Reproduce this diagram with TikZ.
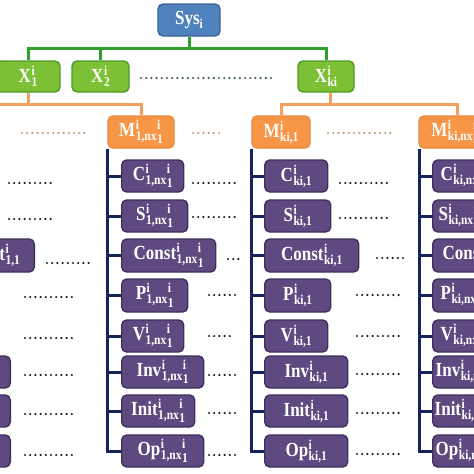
\documentclass[tikz,border=0pt]{standalone}
\usepackage{fontspec}
\setmainfont{Liberation Serif}[FakeStretch=0.85]
\definecolor{sysfill}{HTML}{4F81BD}
\definecolor{sysdraw}{HTML}{3A6396}
\definecolor{greenfill}{HTML}{7CC036}
\definecolor{greendraw}{HTML}{4E9A25}
\definecolor{greenline}{HTML}{2EA02E}
\definecolor{greendots}{HTML}{41604A}
\definecolor{orangefill}{HTML}{F79646}
\definecolor{orangedraw}{HTML}{E88A3C}
\definecolor{orangeline}{HTML}{F4A05C}
\definecolor{orangedots}{HTML}{C09A7A}
\definecolor{purplefill}{HTML}{5E4A80}
\definecolor{purpledraw}{HTML}{3E2F5C}
\definecolor{trunk}{HTML}{14235A}
\definecolor{darkdots}{HTML}{1E1E2E}
\newcommand\sfn{\fontsize{13.5}{13.5}\selectfont}
% base ^sup _sub
\newcommand\lbl[3]{#1\kern0.5pt\rlap{\raisebox{7pt}{\sfn #2}}\raisebox{-4pt}{\sfn #3}}
% base ^sup _{sub ^sup2 _sub2}
\newcommand\lbln[5]{#1\kern0.5pt\rlap{\raisebox{7pt}{\sfn #2}}\raisebox{-4pt}{\sfn #3}\kern0.5pt\rlap{\raisebox{7pt}{\sfn #4}}\raisebox{-7.5pt}{\sfn #5}}
\newcommand\nxa[1]{\lbln{#1}{i}{1,nx}{i}{1}}
\newcommand\kio[1]{\lbl{#1}{i}{ki,1}}
\newcommand\kinx[1]{\lbln{#1}{i}{ki,nx}{i}{ki}}
\newcommand\oneone[1]{\lbl{#1}{i}{1,1}}
\begin{document}
\begin{tikzpicture}[x=1pt,y=-1pt,
 box/.style={rounded corners=5pt, line width=1.4pt, text=white,
   font=\fontsize{20}{22}\selectfont\bfseries, inner sep=0pt, minimum height=32pt},
 sysbox/.style={box, fill=sysfill, draw=sysdraw},
 xbox/.style={box, fill=greenfill, draw=greendraw, minimum height=31pt},
 mbox/.style={box, fill=orangefill, draw=orangedraw},
 pbox/.style={box, fill=purplefill, draw=purpledraw, anchor=west},
 pboxe/.style={box, fill=purplefill, draw=purpledraw, anchor=east},
 gline/.style={draw=greenline, line width=3pt},
 oline/.style={draw=orangeline, line width=3pt},
 tline/.style={draw=trunk, line width=3pt},
 dots/.style={line width=2.4pt, line cap=round, dash pattern=on 0pt off 5.2pt},
]
\useasboundingbox (0,0) rectangle (474,474);
\clip (0,0) rectangle (474,474);
\fill[white] (0,0) rectangle (474,474);

% top levels
\node[sysbox, minimum width=62pt] (sys) at (189,20) {Sys\raisebox{-4pt}{\sfn i}};
\node[xbox, minimum width=64pt] (x1) at (28,76.5) {\lbl{X}{i}{1}};
\node[xbox, minimum width=57pt] (x2) at (100.5,76.5) {\lbl{X}{i}{2}};
\node[xbox, minimum width=56pt] (xk) at (326,76.5) {\lbl{X}{i}{ki}};
\coordinate (gb) at (0,48);
\draw[gline] (sys.south) -- (sys.south |- gb);
\draw[gline] (x1.north) -- (x1.north |- gb) -| (xk.north);
\draw[gline] (x2.north) -- (x2.north |- gb);
\draw[dots, greendots] (141,78) -- (276,78);

% M level
\node[mbox, minimum width=66pt] (m1) at (141,132) {\nxa{M}};
\node[mbox, minimum width=58pt] (mk1) at (281,132) {\kio{M}};
\node[mbox, minimum width=76pt] (mkn) at (457,132) {\kinx{M}};
\coordinate (m0) at (-40,116);
\coordinate (ob) at (0,104);
\draw[oline] (x1.south) -- (x1.south |- ob);
\draw[oline] (m0) -- (m0 |- ob) -| (m1.north);
\draw[oline] ([xshift=4pt]xk.south) -- ([xshift=4pt]xk.south |- ob);
\draw[oline] (mk1.north) -- (mk1.north |- ob) -| (mkn.north);
\draw[dots, orangedots] (22,133) -- (88,133);
\draw[dots, orangedots] (193,133) -- (224,133);
\draw[dots, orangedots] (328,133) -- (395,133);

% column 0 (cut off at left)
\node[pboxe, minimum width=86pt, minimum height=33pt] (k0) at (35,255.5) {\oneone{Const}};
\node[pboxe, minimum width=83pt] (n0) at (11,372) {\oneone{Inv}};
\node[pboxe, minimum width=83pt] (t0) at (11,411) {\oneone{Init}};
\node[pboxe, minimum width=83pt] (o0) at (11,451) {\oneone{Op}};

% column 1
\node[pbox, minimum width=62pt] (c1) at (121,176) {\nxa{C}};
\node[pbox, minimum width=66pt] (s1) at (121,216) {\nxa{S}};
\node[pbox, minimum width=94pt, minimum height=33pt] (k1) at (121,255.5) {\nxa{Const}};
\node[pbox, minimum width=66pt, minimum height=33pt] (p1) at (121,295.5) {\nxa{P}};
\node[pbox, minimum width=62pt] (v1) at (121,336) {\nxa{V}};
\node[pbox, minimum width=82pt] (n1) at (121,372) {\nxa{Inv}};
\node[pbox, minimum width=73pt] (t1) at (121,411) {\nxa{Init}};
\node[pbox, minimum width=82pt] (o1) at (121,451) {\nxa{Op}};
\draw[tline] (m1.south west) |- (o1.west);
\foreach \b in {c1,s1,k1,p1,v1,n1,t1}{\draw[tline] (m1.south west |- \b.west) -- (\b.west);}

% column 2
\node[pbox, minimum width=63pt] (c2) at (264,176) {\kio{C}};
\node[pbox, minimum width=66pt] (s2) at (264,216) {\kio{S}};
\node[pbox, minimum width=94pt, minimum height=33pt] (k2) at (264,255.5) {\kio{Const}};
\node[pbox, minimum width=66pt, minimum height=33pt] (p2) at (264,295.5) {\kio{P}};
\node[pbox, minimum width=63pt] (v2) at (264,336) {\kio{V}};
\node[pbox, minimum width=83pt] (n2) at (264,372) {\kio{Inv}};
\node[pbox, minimum width=83pt] (t2) at (264,411) {\kio{Init}};
\node[pbox, minimum width=83pt] (o2) at (264,451) {\kio{Op}};
\draw[tline] (mk1.south west) |- (o2.west);
\foreach \b in {c2,s2,k2,p2,v2,n2,t2}{\draw[tline] (mk1.south west |- \b.west) -- (\b.west);}

% column 3 (cut off at right)
\node[pbox, inner xsep=8pt] (c3) at (432,176) {\kinx{C}};
\node[pbox, inner xsep=6pt] (s3) at (432,216) {\kinx{S}};
\node[pbox, inner xsep=10pt, minimum height=33pt] (k3) at (432,255.5) {\kinx{Const}};
\node[pbox, inner xsep=8pt, minimum height=33pt] (p3) at (432,295.5) {\kinx{P}};
\node[pbox, inner xsep=8pt] (v3) at (432,336) {\kinx{V}};
\node[pbox, inner xsep=3pt] (n3) at (432,372) {\kinx{Inv}};
\node[pbox, inner xsep=2pt] (t3) at (432,411) {\kinx{Init}};
\node[pbox, inner xsep=3pt] (o3) at (432,451) {\kinx{Op}};
\draw[tline] ([xshift=1pt]mkn.south west) |- (o3.west);
\foreach \b in {c3,s3,k3,p3,v3,n3,t3}{\draw[tline] ([xshift=1pt]mkn.south west |- \b.west) -- (\b.west);}

% row dots
\foreach \y/\a/\b in {183/9/55, 219/9/55, 263/47/92, 297/25/72, 338/25/72, 375/25/72, 414/25/72, 455/25/72}
  {\draw[dots, darkdots] (\a,\y) -- (\b,\y);}
\foreach \y/\a/\b in {183/193/238, 217/193/238, 259/228/240, 295/209/238, 336/209/233, 375/209/238, 413/209/238, 455/209/238}
  {\draw[dots, darkdots] (\a,\y) -- (\b,\y);}
\foreach \y/\a/\b in {183/340/387, 218/340/387, 258/377/405, 295/357/403, 336/357/403, 374/357/403, 413/357/403, 454/357/403}
  {\draw[dots, darkdots] (\a,\y) -- (\b,\y);}
\end{tikzpicture}
\end{document}
